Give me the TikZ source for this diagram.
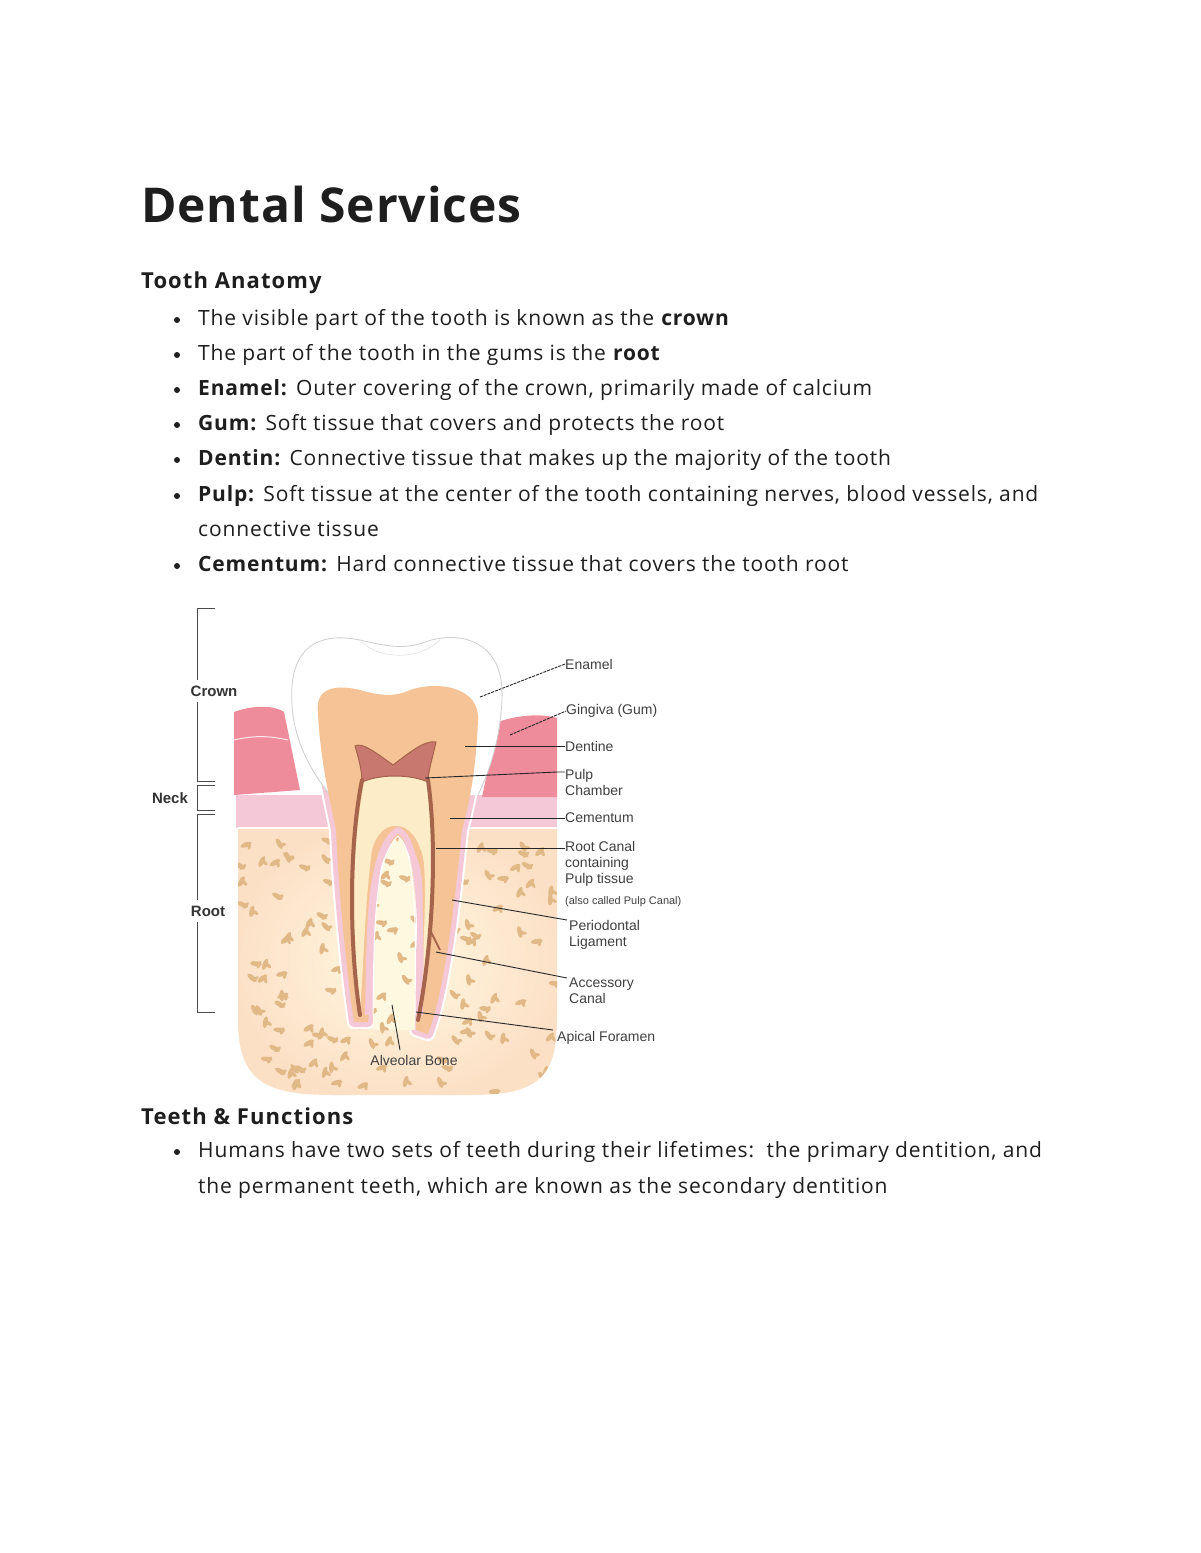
\documentclass[tikz,border=0pt]{standalone}
\usepackage{fontspec}
\setmainfont{Open Sans}
\newfontfamily\lab{Liberation Sans}
\definecolor{txt}{RGB}{30,30,30}
\definecolor{bone}{RGB}{252,224,198}
\definecolor{bonec}{RGB}{255,248,225}
\definecolor{spot}{RGB}{225,185,135}
\definecolor{gumr}{RGB}{238,140,155}
\definecolor{gump}{RGB}{245,200,215}
\definecolor{dent}{RGB}{245,195,150}
\definecolor{cream}{RGB}{252,236,200}
\definecolor{pulp}{RGB}{165,100,75}
\definecolor{pulpf}{RGB}{200,120,110}
\definecolor{ename}{RGB}{205,205,210}
\tikzset{
 body/.style={anchor=west,font=\fontsize{21}{24}\selectfont\addfontfeature{LetterSpace=4},text=txt,inner sep=0pt,text height=15pt,text depth=5pt},
 head/.style={anchor=west,font=\fontsize{22}{25}\selectfont\bfseries\addfontfeature{LetterSpace=5},text=txt,inner sep=0pt},
 lbl/.style={anchor=west,font=\lab\fontsize{14}{16}\selectfont,text=black!75,inner sep=0pt,align=left},
 side/.style={anchor=center,font=\lab\fontsize{15}{17}\selectfont\bfseries,text=black!80,inner sep=0pt},
 lead/.style={black!85,line width=0.9pt},
 brk/.style={black!70,line width=1pt},
 bul/.style={circle,fill=txt,inner sep=0pt,minimum size=6pt}
}
\begin{document}
\begin{tikzpicture}[x=1pt,y=-1pt]
\useasboundingbox (0,0) rectangle (1200,1553);
\fill[white] (0,0) rectangle (1200,1553);
% text
\node[anchor=west,font=\fontsize{48}{52}\selectfont\bfseries\addfontfeature{LetterSpace=2},text=txt,inner sep=0pt] (title) at (141,204) {Dental Services};
\node[head] (h1) at (141,283) {Tooth Anatomy};
\foreach \y/\t [count=\i] in {320/{The visible part of the tooth is known as the \textbf{crown}},
 355/{The part of the tooth in the gums is the \textbf{root}},
 390/{\textbf{Enamel:} Outer covering of the crown, primarily made of calcium},
 425/{\textbf{Gum:} Soft tissue that covers and protects the root},
 460/{\textbf{Dentin:} Connective tissue that makes up the majority of the tooth},
 496/{\textbf{Pulp:} Soft tissue at the center of the tooth containing nerves, blood vessels, and},
 566/{\textbf{Cementum:} Hard connective tissue that covers the tooth root}}
 {\node[bul] (b\i) at (177,\y) {}; \node[body] (t\i) at (198,\y) {\t};}
\node[body] (t6b) at (198,531) {connective tissue};
\node[head] (h2) at (141,1116) {Teeth \& Functions};
\node[bul] (c1) at (177,1152) {};
\node[body] (u1) at (198,1152) {Humans have two sets of teeth during their lifetimes:\ \ the primary dentition, and};
\node[body] (u2) at (198,1188) {the permanent teeth, which are known as the secondary dentition};
% ---------- diagram ----------
\def\spots{\pgfmathsetseed{7}
\foreach \k in {1,...,140}{
 \pgfmathsetmacro\px{240+rnd*315}\pgfmathsetmacro\py{832+rnd*260}\pgfmathsetmacro\rt{rnd*180}
 \fill[spot,rotate around={\rt:(\px,\py)}] (\px,\py) ellipse (6 and 2.4);
 \fill[spot,rotate around={\rt+70:(\px+3,\py+1)}] (\px+3,\py+1) ellipse (4 and 1.8);
}}
\begin{scope}
\path[clip] (238,828) -- (238,1020) .. controls (238,1085) and (270,1095) .. (335,1095) -- (470,1095) .. controls (535,1095) and (557,1080) .. (557,1020) -- (557,828) -- cycle;
\shade[inner color=bonec,outer color=bone] (230,820) rectangle (565,1100);
\spots
\end{scope}
% gum pink band
\fill[gump] (236,795) rectangle (557,828);
\draw[white,line width=1.5pt] (238,828) -- (557,828);
% gums red
\fill[gumr] (234,712) .. controls (250,706) and (272,704) .. (284,712) -- (300,790) -- (234,795) -- cycle;
\fill[gumr] (498,722) .. controls (520,714) and (545,714) .. (557,718) -- (557,797) -- (482,797) -- cycle;
\draw[white!80!gumr,line width=1pt] (234,740) .. controls (255,735) and (270,736) .. (288,740);
% tooth
\def\outer{(318,712) .. controls (315,688) and (335,684) .. (360,690) .. controls (380,696) and (396,697) .. (410,690) .. controls (440,680) and (480,688) .. (478,720) .. controls (476,770) and (470,800) .. (462,830) .. controls (455,900) and (445,990) .. (428,1034) -- (416,1030) .. controls (418,980) and (425,930) .. (422,880) .. controls (418,830) and (378,826) .. (374,880) .. controls (370,940) and (372,990) .. (368,1022) -- (354,1022) .. controls (345,960) and (338,880) .. (336,830) .. controls (330,800) and (320,760) .. (318,712) -- cycle}
\draw[white,line width=14pt,line join=round] \outer;
\draw[gump,line width=10pt,line join=round] \outer;
% enamel
\fill[white] (292,705) .. controls (288,645) and (320,632) .. (360,640) .. controls (385,646) and (405,650) .. (425,642) .. controls (460,630) and (505,640) .. (502,700) .. controls (500,740) and (490,770) .. (478,795) -- (330,795) .. controls (310,770) and (294,740) .. (292,705) -- cycle;
\draw[ename,line width=0.8pt] (330,795) .. controls (310,770) and (294,740) .. (292,705) .. controls (288,645) and (320,632) .. (360,640) .. controls (385,646) and (405,650) .. (425,642) .. controls (460,630) and (505,640) .. (502,700) .. controls (500,740) and (490,770) .. (478,795);
\draw[ename!60,line width=0.6pt] (362,642) .. controls (380,660) and (420,660) .. (440,640);
% dentin
\fill[dent] \outer;
% cream inner
\fill[cream] (365,778) .. controls (395,770) and (420,775) .. (428,780) .. controls (436,850) and (430,950) .. (420,1018) .. controls (425,920) and (428,860) .. (420,848) .. controls (410,818) and (380,818) .. (372,850) .. controls (365,900) and (364,960) .. (360,1012) .. controls (352,950) and (350,850) .. (365,778) -- cycle;
% pink arch and bone inside
\begin{scope}
\path[clip] (373,1030) .. controls (374,930) and (374,858) .. (398,836) .. controls (416,850) and (416,920) .. (415,1030) -- cycle;
\fill[bonec] (360,820) rectangle (430,1040);
\spots
\end{scope}
\draw[gump,line width=6pt] (368,1015) .. controls (370,930) and (368,850) .. (398,830) .. controls (420,840) and (422,920) .. (420,1015);
\draw[white,line width=1pt] (373,1015) .. controls (374,930) and (374,858) .. (398,836) .. controls (416,850) and (416,920) .. (415,1015);
% pulp
\def\chamber{(355,746) .. controls (362,742) and (375,752) .. (393,765) .. controls (410,752) and (425,740) .. (436,742) .. controls (432,760) and (428,772) .. (428,782) .. controls (410,774) and (380,774) .. (362,782) .. controls (362,770) and (358,756) .. (355,746) -- cycle}
\fill[pulpf] \chamber;
\draw[pulp,line width=1pt] \chamber;
\draw[pulp,line width=4pt,line cap=round] (362,780) .. controls (348,850) and (350,950) .. (360,1015);
\draw[pulp,line width=4pt,line cap=round] (428,780) .. controls (438,850) and (432,950) .. (418,1020);
\draw[pulp,line width=2pt] (430,930) -- (440,950);
% brackets
\draw[brk] (215,608) -- (197,608) -- (197,680);
\draw[brk] (197,702) -- (197,781) -- (215,781);
\draw[brk] (215,785) -- (197,785) -- (197,810) -- (215,810);
\draw[brk] (215,814) -- (197,814) -- (197,900);
\draw[brk] (197,922) -- (197,1012) -- (215,1012);
\node[side] (crown) at (214,691) {Crown};
\node[side] (neck) at (170,798) {Neck};
\node[side] (root) at (208,911) {Root};
% labels
\node[lbl] (l1) at (565,664) {Enamel};
\node[lbl] (l2) at (566,711) {Gingiva (Gum)};
\node[lbl] (l3) at (565,746) {Dentine};
\node[lbl] (l4) at (565,782) {Pulp\\Chamber};
\node[lbl] (l5) at (565,818) {Cementum};
\node[lbl] (l6) at (565,864) {Root Canal\\containing\\Pulp tissue};
\node[lbl,font=\lab\fontsize{11}{13}\selectfont] (l6b) at (565,902) {(also called Pulp Canal)};
\node[lbl] (l7) at (569,935) {Periodontal\\Ligament};
\node[lbl] (l8) at (569,991) {Accessory\\Canal};
\node[lbl] (l9) at (557,1038) {Apical Foramen};
\node[lbl,anchor=center] (l10) at (414,1060) {Alveolar Bone};
\coordinate (p1) at (480,697); \coordinate (p2) at (510,735);
\coordinate (p3) at (465,746); \coordinate (p4) at (425,778);
\coordinate (p5) at (450,818); \coordinate (p6) at (436,848);
\coordinate (p7) at (452,900); \coordinate (p8) at (436,952);
\coordinate (p9) at (416,1012); \coordinate (p10) at (392,1005);
\draw[lead,dash pattern=on 3pt off 1pt] (p1) -- (l1.west);
\draw[lead,dash pattern=on 3pt off 1pt] (p2) -- (l2.west);
\draw[lead] (p3) -- (l3.west);
\draw[lead] (p4) -- (557,772) -- (565,772);
\draw[lead] (p5) -- (l5.west);
\draw[lead] (p6) -- (565,848);
\draw[lead] (p7) -- (567,920);
\draw[lead] (p8) -- (567,978);
\draw[lead] (p9) -- (553,1030);
\draw[lead] (p10) -- (400,1050);
\end{tikzpicture}
\end{document}
